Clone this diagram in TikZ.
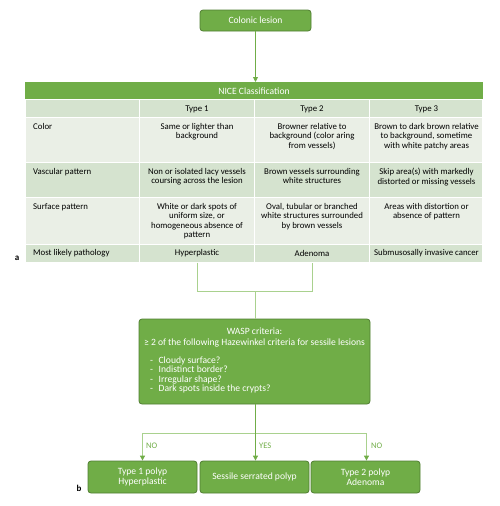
\documentclass[tikz,border=0pt]{standalone}
\usepackage{fontspec}
\setmainfont{Carlito}
\usetikzlibrary{arrows.meta}
\definecolor{gr}{HTML}{70AD47}
\definecolor{grd}{HTML}{507E32}
\definecolor{rowg}{HTML}{D5E3CF}
\definecolor{rowy}{HTML}{EAEFE6}
\definecolor{lgr}{HTML}{A9D18E}
\tikzset{
  gbox/.style={draw=grd, fill=gr, rounded corners=3pt, line width=0.8pt, text=white, align=center, font=\fontsize{9.6}{10.5}\selectfont, inner sep=0pt},
  tcell/.style={inner sep=0pt, align=center, anchor=north, font=\fontsize{8.8}{9.4}\selectfont, text=black},
  lcell/.style={inner sep=0pt, align=left, anchor=north west, font=\fontsize{8.8}{9.4}\selectfont, text=black},
  conn/.style={draw=gr, line width=0.9pt},
  lconn/.style={draw=lgr, line width=0.9pt},
  tip/.style={-{Triangle[length=5pt,width=5pt,color=gr]}},
  lbl/.style={text=gr, font=\fontsize{8.5}{9}\selectfont, inner sep=0pt, anchor=west},
  letter/.style={font=\bfseries\fontsize{9}{9}\selectfont, inner sep=0pt}
}
\begin{document}
\begin{tikzpicture}[x=1pt,y=-1pt]
\useasboundingbox (0,0) rectangle (499,506);
% top box
\node[gbox, minimum width=111pt, minimum height=21pt] (lesion) at (255.5,20.5) {Colonic lesion};
% table header
\fill[gr] (25,82) rectangle (483,99.5);
\node[text=white, font=\fontsize{9.6}{10}\selectfont, inner sep=0pt] (nice) at (254,91) {NICE Classification};
\coordinate (nicetop) at (255.5,82);
\draw[conn, tip] (lesion.south) -- (nicetop);
% rows
\foreach \ya/\yb/\c in {99.5/117.5/rowg, 117.5/162.5/rowy, 162.5/197.5/rowg, 197.5/244.5/rowy, 244.5/262.5/rowg}{
  \foreach \xa/\xb in {25/139.5, 139.5/254.5, 254.5/369.5, 369.5/483}{
    \filldraw[fill=\c, draw=white, line width=1.2pt] (\xa,\ya) rectangle (\xb,\yb);
  }
}
% type row
\node[tcell, anchor=center] (t1) at (197,109) {Type 1};
\node[tcell, anchor=center] (t2) at (312,109) {Type 2};
\node[tcell, anchor=center] (t3) at (426.5,109) {Type 3};
% color row
\node[lcell] (colorl) at (33,123) {Color};
\node[tcell] (c1) at (197,123) {Same or lighter than\\background};
\node[tcell] (c2) at (312,123) {Browner relative to\\background (color aring\\from vessels)};
\node[tcell] (c3) at (426.5,123) {Brown to dark brown relative\\to background, sometime\\with white patchy areas};
% vascular row
\node[lcell] (vascl) at (33,168) {Vascular pattern};
\node[tcell] (v1) at (197,168) {Non or isolated lacy vessels\\coursing across the lesion};
\node[tcell] (v2) at (312,168) {Brown vessels surrounding\\white structures};
\node[tcell] (v3) at (426.5,168) {Skip area(s) with markedly\\distorted or missing vessels};
% surface row
\node[lcell] (surfl) at (33,203) {Surface pattern};
\node[tcell] (s1) at (197,203) {White or dark spots of\\uniform size, or\\homogeneous absence of\\pattern};
\node[tcell] (s2) at (312,203) {Oval, tubular or branched\\white structures surrounded\\by brown vessels};
\node[tcell] (s3) at (426.5,203) {Areas with distortion or\\absence of pattern};
% pathology row
\node[lcell, anchor=west] (pathl) at (33,253.5) {Most likely pathology};
\node[tcell, anchor=center] (p1) at (197,253.5) {Hyperplastic};
\node[tcell, anchor=center] (p2) at (312,253.5) {Adenoma};
\node[tcell, anchor=center] (p3) at (426.5,253.5) {Submusosally invasive cancer};
\coordinate (p1b) at (197,262.5);
\coordinate (p2b) at (312,262.5);
\node[letter] (la) at (17,258) {a};
% WASP box
\node[gbox, minimum width=231pt, minimum height=85pt] (wasp) at (254.5,361.5) {};
\node[text=white, align=center, font=\fontsize{9.6}{11}\selectfont, inner sep=0pt, anchor=north] (wasptitle) at (254.5,328) {WASP criteria:\\≥ 2 of the following Hazewinkel criteria for sessile lesions};
\node[text=white, align=left, font=\fontsize{9.6}{9.4}\selectfont, inner sep=0pt, anchor=north west] (wasplist) at (150,356.5) {-\hspace{5.5pt}Cloudy surface?\\-\hspace{5.5pt}Indistinct border?\\-\hspace{5.5pt}Irregular shape?\\-\hspace{5.5pt}Dark spots inside the crypts?};
% join lines
\coordinate (j1) at (197,291);
\coordinate (j2) at (312,291);
\coordinate (jm) at (255.5,291);
\draw[lconn] (p1b) -- (j1) -- (j2) -- (p2b);
\draw[lconn] (jm) -- (jm |- wasp.north);
% bottom boxes
\node[gbox, minimum width=109pt, minimum height=32pt] (b1) at (142.5,477) {Type 1 polyp\\Hyperplastic};
\node[gbox, minimum width=109pt, minimum height=32pt] (b2) at (254.5,477) {Sessile serrated polyp};
\node[gbox, minimum width=109pt, minimum height=32pt] (b3) at (365.5,477) {Type 2 polyp\\Adenoma};
\node[letter] (lb) at (79,488) {b};
% bottom connectors
\coordinate (split) at (255.5,433);
\coordinate (sl) at (142.5,433);
\coordinate (sr) at (366.5,433);
\draw[lconn] (sl) -- (sr);
\draw[conn, tip] (wasp.south -| split) -- (split |- b2.north);
\draw[lconn, tip] (sl) -- (sl |- b1.north);
\draw[lconn, tip] (sr) -- (sr |- b3.north);
\node[lbl] (no1) at (146,446) {NO};
\node[lbl] (yes) at (259,446) {YES};
\node[lbl] (no2) at (371,446) {NO};
\end{tikzpicture}
\end{document}
